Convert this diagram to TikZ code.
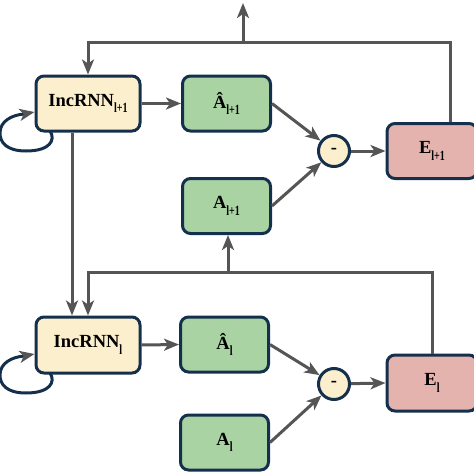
\documentclass[tikz,border=0pt]{standalone}
\usepackage{fontspec}
\setmainfont{Liberation Serif}
\usetikzlibrary{arrows.meta}
\definecolor{navy}{HTML}{15304D}
\definecolor{incfill}{HTML}{FCEFCD}
\definecolor{grnfill}{HTML}{A9D3A2}
\definecolor{pinkfill}{HTML}{E4B3AD}
\definecolor{arrgray}{HTML}{555555}
\newcommand{\sub}[1]{\raisebox{-6.3pt}{\scalebox{0.72}[1]{\fontsize{14}{14}\selectfont #1}}}
\tikzset{
  blk/.style={draw=navy, line width=3pt, rounded corners=8pt, minimum height=55pt, inner sep=0pt, font=\fontsize{18.5}{18.5}\selectfont\bfseries},
  incbox/.style={blk, fill=incfill, minimum width=104pt},
  grnbox/.style={blk, fill=grnfill, minimum width=88pt},
  errbox/.style={blk, fill=pinkfill, minimum width=90pt},
  minus/.style={circle, draw=navy, line width=3pt, fill=incfill, minimum size=31pt, inner sep=0pt, font=\fontsize{18.5}{18.5}\selectfont\bfseries},
  conn/.style={draw=arrgray, line width=3pt, -{Stealth[length=15pt,width=12pt,inset=4pt]}},
  loopline/.style={draw=navy, line width=3pt, -{Stealth[length=15pt,width=12pt,inset=4pt,color=arrgray]}}
}
\begin{document}
\begin{tikzpicture}[x=1pt,y=-1pt]
\useasboundingbox (0,0) rectangle (474,474);
% upper layer
\node[incbox] (inc1) at (88,103.5) {IncRNN\sub{l+1}};
\node[grnbox] (ah1) at (226.5,103.5) {Â\sub{l+1}};
\node[grnbox] (a1) at (226.5,206) {A\sub{l+1}};
\node[minus] (m1) at (334,151) {-};
\node[errbox] (e1) at (432,151) {E\sub{l+1}};
% lower layer
\node[incbox, minimum height=56pt] (inc2) at (88,345) {IncRNN\sub{l}};
\node[grnbox] (ah2) at (224.5,344.5) {Â\sub{l}};
\node[grnbox] (a2) at (224.5,442.5) {A\sub{l}};
\node[minus] (m2) at (334,384) {-};
\node[errbox, minimum height=56pt] (e2) at (432,383) {E\sub{l}};
% coordinates
\coordinate (t1) at (450,42);
\coordinate (t2) at (88,42);
\coordinate (up) at (243,42);
\coordinate (uptip) at (243,3);
\coordinate (b1) at (432,272);
\coordinate (b2) at (88,272);
\coordinate (bup) at (228,272);
% upper connections
\draw[conn] (inc1.east) -- (ah1.west);
\draw[conn] (ah1.east) -- (m1);
\draw[conn] (a1.east) -- (m1);
\draw[conn] (m1) -- (e1.west);
\draw[conn] (e1.north -| t1) -- (t1) -- (t2) -- (inc1.north);
\draw[conn] (up) -- (uptip);
\draw[conn] ([xshift=-16pt]inc1.south) -- ([xshift=-16pt]inc2.north);
% lower connections
\draw[conn] (inc2.east) -- (ah2.west);
\draw[conn] (ah2.east) -- (m2);
\draw[conn] (a2.east) -- (m2);
\draw[conn] (m2) -- (e2.west);
\draw[conn] (e2.north -| b1) -- (b1) -- (b2) -- (inc2.north);
\draw[conn] (bup) -- (a1.south -| bup);
% self loops
\draw[loopline] (50,131) .. controls (56,140) and (50,151) .. (26,151) .. controls (6,151) and (0,142) .. (0,133) .. controls (0,121) and (12,115) .. (24,114) -- (inc1.west |- 0,112);
\draw[loopline] (50,373) .. controls (56,382) and (50,393) .. (26,393) .. controls (6,393) and (0,384) .. (0,375) .. controls (0,363) and (12,357) .. (24,356) -- (inc2.west |- 0,354);
\end{tikzpicture}
\end{document}
